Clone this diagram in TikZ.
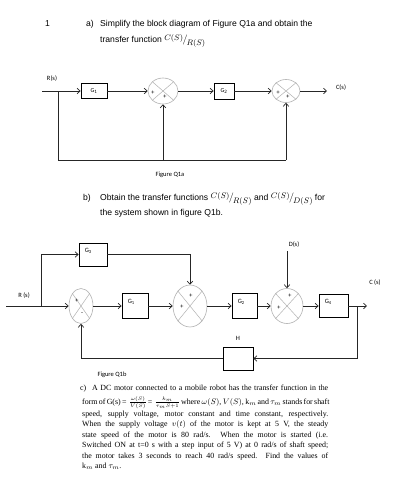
\documentclass[tikz,border=0pt]{standalone}
\usepackage{fontspec}
\setmainfont{Liberation Serif}
\newfontfamily\arialf{Liberation Sans}
\newfontfamily\calf{Carlito}
\usetikzlibrary{arrows.meta,shapes.geometric}
\newcommand{\slfrac}[2]{{\fontsize{7.8}{9}\selectfont\raisebox{0.35ex}{$#1$}\kern-0.5pt{\fontsize{10}{10}\selectfont$/$}\kern-1pt\raisebox{-0.8ex}{$#2$}}}
\newcommand{\tinyfrac}[2]{\kern1pt$\frac{\scriptscriptstyle #1}{\scriptscriptstyle #2}$\kern1pt}
\begin{document}
\begin{tikzpicture}[x=1pt,y=-1pt,
  line/.style={draw=black!85,line width=0.7pt},
  arr/.style={line,-{Straight Barb[length=3pt,width=5.5pt]}},
  blk/.style={draw=black,line width=0.8pt,inner sep=0pt,font=\calf\fontsize{6}{7}\selectfont},
  sumj/.style={ellipse,draw=black!30,line width=0.6pt,inner sep=0pt},
  xl/.style={draw=black!30,line width=0.5pt},
  lab/.style={inner sep=0pt,font=\calf\fontsize{6.5}{7}\selectfont},
  sgn/.style={inner sep=0pt,font=\arialf\fontsize{6}{6}\selectfont},
  figcap/.style={inner sep=0pt,font=\calf\fontsize{6.5}{7}\selectfont},
  txt/.style={inner sep=0pt,anchor=base west,font=\arialf\fontsize{8.6}{10}\selectfont},
  ctxt/.style={inner sep=0pt,anchor=base west,font=\fontsize{7.9}{9}\selectfont}]
\fill[white] (0,0) rectangle (403,480);
\useasboundingbox (0,0) rectangle (403,480);

% ---------- part a text
\node[txt] (n1) at (45,26) {1};
\node[txt] (pa) at (86,26) {a)};
\node[txt] (a1) at (100,26) {Simplify the block diagram of Figure Q1a and obtain the};
\node[txt] (a2) at (100,42) {transfer function \slfrac{C(S)}{R(S)}};

% ---------- Figure Q1a
\coordinate (ra) at (42,91);
\coordinate (ba) at (58,91);
\node[lab] (rla) at (52,79) {R(s)};
\node[blk,minimum width=26pt,minimum height=15pt] (g1a) at (94,91) {G\textsubscript{1}};
\node[sumj,minimum width=30pt,minimum height=26pt] (s1a) at (163,91) {};
\node[blk,minimum width=20pt,minimum height=16pt] (g2a) at (224,91) {G\textsubscript{2}};
\node[sumj,minimum width=28pt,minimum height=23pt] (s2a) at (286,91) {};
\coordinate (ca) at (327,91);
\node[lab] (cla) at (341,88) {C(s)};
\coordinate (bla) at (58,160);
\coordinate (bma) at (163,160);
\coordinate (bra) at (286,160);
\foreach \s in {s1a,s2a}{
  \draw[xl] (\s.north east) -- (\s.south west) (\s.north west) -- (\s.south east);}
\draw[arr] (ra) -- (g1a.west);
\draw[arr] (g1a.east) -- (s1a.west);
\draw[arr] (s1a.east) -- (g2a.west);
\draw[arr] (g2a.east) -- (s2a.west);
\draw[arr] (s2a.east) -- (ca);
\draw[line] (ba) -- (bla) -- (bra);
\draw[arr] (bra) -- (s2a.south);
\draw[arr] (bma) -- (s1a.south);
\node[sgn] (p1) at (153,93) {+};
\node[sgn] (p2) at (165,97) {+};
\node[sgn] (p3) at (278,93) {+};
\node[sgn] (p4) at (288,97) {+};
\node[figcap] (capa) at (170,175) {Figure Q1a};

% ---------- part b text
\node[txt] (pb) at (83,200) {b)};
\node[txt] (b1) at (100,200) {Obtain the transfer functions \slfrac{C(S)}{R(S)} and \slfrac{C(S)}{D(S)} for};
\node[txt] (b2) at (100,215) {the system shown in figure Q1b.};

% ---------- Figure Q1b
\coordinate (rb) at (6,306);
\coordinate (bb) at (41,306);
\node[lab] (rlb) at (24,296) {R (s)};
\node[blk,minimum width=28pt,minimum height=23pt] (g3) at (93,254.5) {};
\node[lab,anchor=west] (g3l) at ([shift={(6,8)}]g3.north west) {G\textsubscript{3}};
\node[sumj,minimum width=24pt,minimum height=35pt] (sa) at (81,306) {};
\node[blk,minimum width=26pt,minimum height=25pt] (g1b) at (135,306) {};
\node[lab,anchor=west] (g1l) at ([shift={(6,9)}]g1b.north west) {G\textsubscript{1}};
\node[sumj,minimum width=34pt,minimum height=42pt] (sb) at (190,306) {};
\node[blk,minimum width=25pt,minimum height=25pt] (g2b) at (244.5,306) {};
\node[lab,anchor=west] (g2l) at ([shift={(6,9)}]g2b.north west) {G\textsubscript{2}};
\node[sumj,minimum width=32pt,minimum height=35pt] (sc) at (287,306) {};
\coordinate (dtop) at (287,251);
\node[lab] (dl) at (294,245) {D(s)};
\node[blk,minimum width=29pt,minimum height=23pt] (g4) at (333.5,306) {};
\node[lab,anchor=west] (g4l) at ([shift={(6,8)}]g4.north west) {G\textsubscript{4}};
\coordinate (cb) at (367,306);
\coordinate (bc) at (357,306);
\node[lab] (clb) at (375,283) {C (s)};
\node[blk,minimum width=30pt,minimum height=23pt] (h) at (238,358.5) {};
\node[lab] (hl) at ([yshift=8]h.north) {H};
\foreach \s in {sa,sb,sc}{
  \draw[xl] (\s.north east) -- (\s.south west) (\s.north west) -- (\s.south east);}
\draw[arr] (rb) -- (sa.west);
\draw[arr] (bb) |- (g3.west);
\draw[arr] (g3.east) -| (sb.north);
\draw[arr] (sa.east) -- (g1b.west);
\draw[arr] (g1b.east) -- (sb.west);
\draw[arr] (sb.east) -- (g2b.west);
\draw[arr] (g2b.east) -- (sc.west);
\draw[arr] (dtop) -- (sc.north);
\draw[arr] (sc.east) -- (g4.west);
\draw[arr] (g4.east) -- (cb);
\draw[arr] (bc) |- (h.east);
\draw[arr] (h.west) -| (sa.south);
\node[sgn] (q1) at (77,301) {+};
\node[sgn] (q2) at (82,314) {-};
\node[sgn] (q3) at (191,296) {+};
\node[sgn] (q4) at (182,307) {+};
\node[sgn] (q5) at (290,296) {+};
\node[sgn] (q6) at (279,308) {+};
\node[figcap] (capb) at (112,375) {Figure Q1b};

% ---------- part c text
\node[ctxt] (pc) at (80,390) {c)};
\node[ctxt] (c1) at (92,390) {\makebox[236pt][s]{A DC motor connected to a mobile robot has the transfer function in the}};
\node[ctxt] (c2) at (82,404.5) {\makebox[246pt][s]{form of G(s) = \tinyfrac{\omega(S)}{V(S)} = \tinyfrac{k_m}{\tau_m S+1} where $\omega(S)$, $V(S)$, k$_m$ and $\tau_m$ stands for shaft}};
\node[ctxt] (c3) at (82,416) {\makebox[246pt][s]{speed, supply voltage, motor constant and time constant, respectively.}};
\node[ctxt] (c4) at (82,426.5) {\makebox[246pt][s]{When the supply voltage $v(t)$ of the motor is kept at 5 V, the steady}};
\node[ctxt] (c5) at (82,437) {\makebox[246pt][s]{state speed of the motor is 80 rad/s. When the motor is started (i.e.}};
\node[ctxt] (c6) at (82,447.5) {\makebox[246pt][s]{Switched ON at t=0 s with a step input of 5 V) at 0 rad/s of shaft speed;}};
\node[ctxt] (c7) at (82,458) {\makebox[246pt][s]{the motor takes 3 seconds to reach 40 rad/s speed. Find the values of}};
\node[ctxt] (c8) at (82,468.5) {k$_m$ and $\tau_m$.};
\end{tikzpicture}
\end{document}
